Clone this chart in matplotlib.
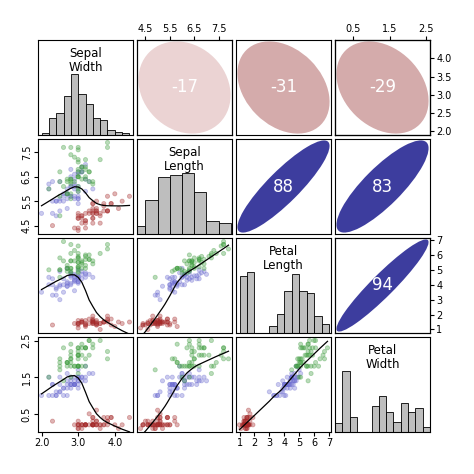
import numpy as np
import matplotlib
matplotlib.use("Agg")
import matplotlib.pyplot as plt
from matplotlib.patches import Ellipse

sl = [5.1,4.9,4.7,4.6,5.0,5.4,4.6,5.0,4.4,4.9,5.4,4.8,4.8,4.3,5.8,5.7,5.4,5.1,5.7,5.1,5.4,5.1,4.6,5.1,4.8,5.0,5.0,5.2,5.2,4.7,4.8,5.4,5.2,5.5,4.9,5.0,5.5,4.9,4.4,5.1,5.0,4.5,4.4,5.0,5.1,4.8,5.1,4.6,5.3,5.0,
7.0,6.4,6.9,5.5,6.5,5.7,6.3,4.9,6.6,5.2,5.0,5.9,6.0,6.1,5.6,6.7,5.6,5.8,6.2,5.6,5.9,6.1,6.3,6.1,6.4,6.6,6.8,6.7,6.0,5.7,5.5,5.5,5.8,6.0,5.4,6.0,6.7,6.3,5.6,5.5,5.5,6.1,5.8,5.0,5.6,5.7,5.7,6.2,5.1,5.7,
6.3,5.8,7.1,6.3,6.5,7.6,4.9,7.3,6.7,7.2,6.5,6.4,6.8,5.7,5.8,6.4,6.5,7.7,7.7,6.0,6.9,5.6,7.7,6.3,6.7,7.2,6.2,6.1,6.4,7.2,7.4,7.9,6.4,6.3,6.1,7.7,6.3,6.4,6.0,6.9,6.7,6.9,5.8,6.8,6.7,6.7,6.3,6.5,6.2,5.9]
sw = [3.5,3.0,3.2,3.1,3.6,3.9,3.4,3.4,2.9,3.1,3.7,3.4,3.0,3.0,4.0,4.4,3.9,3.5,3.8,3.8,3.4,3.7,3.6,3.3,3.4,3.0,3.4,3.5,3.4,3.2,3.1,3.4,4.1,4.2,3.1,3.2,3.5,3.6,3.0,3.4,3.5,2.3,3.2,3.5,3.8,3.0,3.8,3.2,3.7,3.3,
3.2,3.2,3.1,2.3,2.8,2.8,3.3,2.4,2.9,2.7,2.0,3.0,2.2,2.9,2.9,3.1,3.0,2.7,2.2,2.5,3.2,2.8,2.5,2.8,2.9,3.0,2.8,3.0,2.9,2.6,2.4,2.4,2.7,2.7,3.0,3.4,3.1,2.3,3.0,2.5,2.6,3.0,2.6,2.3,2.7,3.0,2.9,2.9,2.5,2.8,
3.3,2.7,3.0,2.9,3.0,3.0,2.5,2.9,2.5,3.6,3.2,2.7,3.0,2.5,2.8,3.2,3.0,3.8,2.6,2.2,3.2,2.8,2.8,2.7,3.3,3.2,2.8,3.0,2.8,3.0,2.8,3.8,2.8,2.8,2.6,3.0,3.4,3.1,3.0,3.1,3.1,3.1,2.7,3.2,3.3,3.0,2.5,3.0,3.4,3.0]
pl = [1.4,1.4,1.3,1.5,1.4,1.7,1.4,1.5,1.4,1.5,1.5,1.6,1.4,1.1,1.2,1.5,1.3,1.4,1.7,1.5,1.7,1.5,1.0,1.7,1.9,1.6,1.6,1.5,1.4,1.6,1.6,1.5,1.5,1.4,1.5,1.2,1.3,1.4,1.3,1.5,1.3,1.3,1.3,1.6,1.9,1.4,1.6,1.4,1.5,1.4,
4.7,4.5,4.9,4.0,4.6,4.5,4.7,3.3,4.6,3.9,3.5,4.2,4.0,4.7,3.6,4.4,4.5,4.1,4.5,3.9,4.8,4.0,4.9,4.7,4.3,4.4,4.8,5.0,4.5,3.5,3.8,3.7,3.9,5.1,4.5,4.5,4.7,4.4,4.1,4.0,4.4,4.6,4.0,3.3,4.2,4.2,4.2,4.3,3.0,4.1,
6.0,5.1,5.9,5.6,5.8,6.6,4.5,6.3,5.8,6.1,5.1,5.3,5.5,5.0,5.1,5.3,5.5,6.7,6.9,5.0,5.7,4.9,6.7,4.9,5.7,6.0,4.8,4.9,5.6,5.8,6.1,6.4,5.6,5.1,5.6,6.1,5.6,5.5,4.8,5.4,5.6,5.1,5.1,5.9,5.7,5.2,5.0,5.2,5.4,5.1]
pw = [0.2,0.2,0.2,0.2,0.2,0.4,0.3,0.2,0.2,0.1,0.2,0.2,0.1,0.1,0.2,0.4,0.4,0.3,0.3,0.3,0.2,0.4,0.2,0.5,0.2,0.2,0.4,0.2,0.2,0.2,0.2,0.4,0.1,0.2,0.2,0.2,0.2,0.1,0.2,0.2,0.3,0.3,0.2,0.6,0.4,0.3,0.2,0.2,0.2,0.2,
1.4,1.5,1.5,1.3,1.5,1.3,1.6,1.0,1.3,1.4,1.0,1.5,1.0,1.4,1.3,1.4,1.5,1.0,1.5,1.1,1.8,1.3,1.5,1.2,1.3,1.4,1.4,1.7,1.5,1.0,1.1,1.0,1.2,1.6,1.5,1.6,1.5,1.3,1.3,1.3,1.2,1.4,1.2,1.0,1.3,1.2,1.3,1.3,1.1,1.3,
2.5,1.9,2.1,1.8,2.2,2.1,1.7,1.8,1.8,2.5,2.0,1.9,2.1,2.0,2.4,2.3,1.8,2.2,2.3,1.5,2.3,2.0,2.0,1.8,2.1,1.8,1.8,1.8,2.1,1.6,1.9,2.0,2.2,1.5,1.4,2.3,2.4,1.8,1.8,2.1,2.4,2.3,1.9,2.3,2.5,2.3,1.9,2.0,2.3,1.8]
species = ["setosa"]*50 + ["versicolor"]*50 + ["virginica"]*50
names = ["Sepal\nWidth", "Sepal\nLength", "Petal\nLength", "Petal\nWidth"]
corr_labels = {(0,1): -17, (0,2): -31, (0,3): -29, (1,2): 88, (1,3): 83, (2,3): 94}
ticks = [[2.0,3.0,4.0],[4.5,5.5,6.5,7.5],[1,2,3,4,5,6,7],[0.5,1.5,2.5]]
ticklabels = [["2.0","3.0","4.0"],["4.5","5.5","6.5","7.5"],["1","2","3","4","5","6","7"],["0.5","1.5","2.5"]]
rticks = [[2.0,2.5,3.0,3.5,4.0],None,[1,2,3,4,5,6,7],None]
rticklabels = [["2.0","2.5","3.0","3.5","4.0"],None,["1","2","3","4","5","6","7"],None]
bins = [np.arange(2.0,4.61,0.2), np.arange(4.0,8.01,0.5), np.arange(1.0,7.01,0.5), np.arange(0.0,2.61,0.2)]
spcol = {"setosa": "#a52a2a", "versicolor": "#6a6ad0", "virginica": "#3a9a3a"}

data = [np.array(sw), np.array(sl), np.array(pl), np.array(pw)]
cols = [spcol[s] for s in species]

def lowess(x, y, frac=2/3, it=3):
    n = len(x); o = np.argsort(x); x = x[o]; y = y[o]
    r = int(np.ceil(frac*n)); yest = np.zeros(n); delta = np.ones(n)
    h = np.array([np.sort(np.abs(x - x[i]))[r-1] for i in range(n)])
    for _ in range(it+1):
        for i in range(n):
            w = np.clip(np.abs(x - x[i]) / max(h[i],1e-9), 0, 1)
            w = (1 - w**3)**3 * delta
            W = w.sum(); mx = (w*x).sum()/W; my = (w*y).sum()/W
            vx = (w*(x-mx)**2).sum()
            b = (w*(x-mx)*(y-my)).sum()/vx if vx > 1e-12 else 0
            yest[i] = my + b*(x[i]-mx)
        res = y - yest; s = np.median(np.abs(res))
        delta = np.clip(res/(6*s if s>0 else 1), -1, 1); delta = (1-delta**2)**2
    return x, yest

def lim(v):
    lo, hi = v.min(), v.max(); p = (hi-lo)*0.04
    return lo-p, hi+p

fig = plt.figure(figsize=(4.74,4.74), dpi=100)
L, B, S, G = 38/474, 42/474, 95/474, 4/474
for i in range(4):
    for j in range(4):
        ax = fig.add_axes([L + j*(S+G), B + (3-i)*(S+G), S, S])
        ax.tick_params(labelsize=7, length=3, pad=1.5)
        ax.set_xticks([]); ax.set_yticks([])
        xl = lim(data[j]); yl = lim(data[i])
        if i == j:
            v = data[i]
            ax.hist(v, bins=bins[i], color="#bebebe", edgecolor="black", lw=0.6)
            cnt, _ = np.histogram(v, bins=bins[i])
            ax.set_xlim(xl); ax.set_ylim(0, cnt.max()*1.55)
            ax.text(0.5, 0.78, names[i], transform=ax.transAxes, ha="center", va="center", fontsize=8.5, linespacing=1.1)
        elif i > j:
            ax.scatter(data[j], data[i], c=cols, s=9, alpha=0.35, edgecolors=cols, linewidths=0.6)
            xs, ys = lowess(data[j], data[i])
            ax.plot(xs, ys, color="black", lw=0.9)
            ax.set_xlim(xl); ax.set_ylim(yl)
        else:
            r = corr_labels[(i,j)]/100
            ax.set_xlim(-1,1); ax.set_ylim(-1,1)
            if r > 0:
                col = "#3d3d9e"
            else:
                col = "#ebd3d3" if abs(r) < 0.2 else "#d4abab"
            a = np.sqrt(1+abs(r)); b = np.sqrt(1-abs(r))
            ang = 45 if r > 0 else -45
            t = np.linspace(0, 2*np.pi, 400)
            ex = a*np.cos(t)*np.cos(np.radians(ang)) - b*np.sin(t)*np.sin(np.radians(ang))
            k = 0.97/np.abs(ex).max()
            ax.add_patch(Ellipse((0,0), 2*a*k, 2*b*k, angle=ang, color=col, lw=0))
            ax.text(0, 0, str(corr_labels[(i,j)]), color="white", ha="center", va="center", fontsize=12)
        if i == 3 and j in (0,2):
            ax.set_xticks(ticks[j]); ax.set_xticklabels(ticklabels[j])
            ax.set_xlim(xl)
        if i == 0 and j in (1,3):
            ax2 = ax.twiny(); ax2.set_xlim(lim(data[j]))
            ax2.set_xticks(ticks[j]); ax2.set_xticklabels(ticklabels[j]); ax2.tick_params(labelsize=7, length=3, pad=1.5)
        if j == 0 and i in (1,3):
            ax.set_yticks(ticks[i]); ax.set_yticklabels(ticklabels[i], rotation=90, va="center")
            ax.set_ylim(yl)
        if j == 3 and i in (0,2):
            ax3 = ax.twinx(); ax3.set_ylim(lim(data[i]))
            ax3.set_yticks(rticks[i]); ax3.set_yticklabels(rticklabels[i])
            ax3.tick_params(labelsize=7, length=3, pad=1.5)
fig.savefig("out.png", dpi=100)
